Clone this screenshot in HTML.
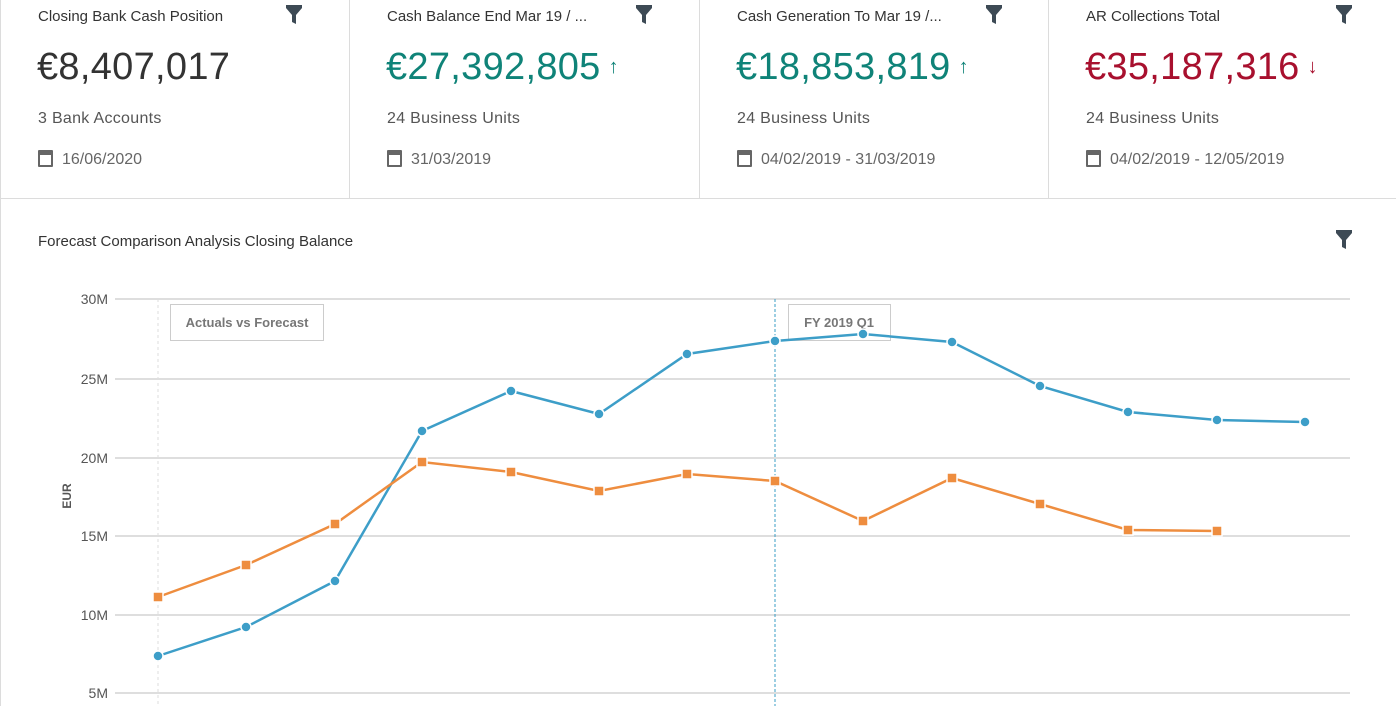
<!DOCTYPE html>
<html><head><meta charset="utf-8"><style>
body{margin:0;width:1396px;height:706px;overflow:hidden;background:#fff;font-family:"Liberation Sans",sans-serif;position:relative}
.card{position:absolute;top:0;height:198px;border-right:1px solid #dcdcdc}
.t{position:absolute;left:38px;top:8px;font-size:15px;color:#333;white-space:nowrap}
.f{position:absolute;top:5px}
.v{position:absolute;left:37px;top:46px;font-size:38px;color:#333;white-space:nowrap;letter-spacing:0.3px}
.v span{font-size:20px;margin-left:8px;vertical-align:6px}
.s{position:absolute;left:38px;top:110px;font-size:16px;color:#555;letter-spacing:0.3px}
.d{position:absolute;left:38px;top:150px;font-size:16px;color:#666}
.d i{display:inline-block;width:15px;height:17px;border:2px solid #666;border-top-width:5px;box-sizing:border-box;border-radius:1px;margin-right:9px;vertical-align:-3px}
</style></head><body>
<div style="position:absolute;left:0;top:0;width:1px;height:706px;background:#dcdcdc"></div>
<div style="position:absolute;left:0;top:198px;width:1396px;height:1px;background:#dcdcdc"></div>
<div class="card" style="left:0;width:349px">
<div class="t">Closing Bank Cash Position</div>
<svg class="f" style="left:286px" width="16" height="20" viewBox="0 0 16 20"><path d="M0 0H16V3L10 10V19L6 17V10L0 3Z" fill="#3d4a55"/></svg>
<div class="v">€8,407,017</div><div class="s">3 Bank Accounts</div><div class="d"><i></i>16/06/2020</div></div>
<div class="card" style="left:349px;width:350px">
<div class="t">Cash Balance End Mar 19 / ...</div>
<svg class="f" style="left:287px" width="16" height="20" viewBox="0 0 16 20"><path d="M0 0H16V3L10 10V19L6 17V10L0 3Z" fill="#3d4a55"/></svg>
<div class="v" style="color:#0f8378">€27,392,805<span>↑</span></div><div class="s">24 Business Units</div><div class="d"><i></i>31/03/2019</div></div>
<div class="card" style="left:699px;width:349px">
<div class="t">Cash Generation To Mar 19 /...</div>
<svg class="f" style="left:287px" width="16" height="20" viewBox="0 0 16 20"><path d="M0 0H16V3L10 10V19L6 17V10L0 3Z" fill="#3d4a55"/></svg>
<div class="v" style="color:#0f8378">€18,853,819<span>↑</span></div><div class="s">24 Business Units</div><div class="d"><i></i>04/02/2019 - 31/03/2019</div></div>
<div class="card" style="left:1048px;width:348px;border-right:none">
<div class="t">AR Collections Total</div>
<svg class="f" style="left:288px" width="16" height="20" viewBox="0 0 16 20"><path d="M0 0H16V3L10 10V19L6 17V10L0 3Z" fill="#3d4a55"/></svg>
<div class="v" style="color:#a8102e">€35,187,316<span>↓</span></div><div class="s">24 Business Units</div><div class="d"><i></i>04/02/2019 - 12/05/2019</div></div>
<div style="position:absolute;left:38px;top:233px;font-size:15px;color:#333">Forecast Comparison Analysis Closing Balance</div>
<svg style="position:absolute;left:1336px;top:230px" width="16" height="20" viewBox="0 0 16 20"><path d="M0 0H16V3L10 10V19L6 17V10L0 3Z" fill="#3d4a55"/></svg>
<svg style="position:absolute;left:0;top:0" width="1396" height="706" font-family="Liberation Sans, sans-serif">
<g stroke="#dedede" stroke-width="2">
<line x1="115" x2="1350" y1="299" y2="299"/><line x1="115" x2="1350" y1="379" y2="379"/><line x1="115" x2="1350" y1="458" y2="458"/><line x1="115" x2="1350" y1="536" y2="536"/><line x1="115" x2="1350" y1="615" y2="615"/><line x1="115" x2="1350" y1="693" y2="693"/></g>
<g fill="#555" font-size="14" text-anchor="end"><text x="108" y="304">30M</text><text x="108" y="384">25M</text><text x="108" y="463">20M</text><text x="108" y="541">15M</text><text x="108" y="620">10M</text><text x="108" y="698">5M</text></g>
<text transform="translate(71,496) rotate(-90)" text-anchor="middle" font-size="12" font-weight="bold" fill="#555">EUR</text>
<line x1="158" x2="158" y1="299" y2="706" stroke="#ddd" stroke-dasharray="3,3"/>
<line x1="775" x2="775" y1="299" y2="706" stroke="#3a9cc4" stroke-dasharray="3,2"/>
<rect x="170.5" y="304.5" width="153" height="36" fill="#fff" stroke="#ccc"/><text x="247" y="327" text-anchor="middle" font-size="13" font-weight="bold" fill="#777">Actuals vs Forecast</text>
<rect x="788.5" y="304.5" width="102" height="36" fill="#fff" stroke="#ccc"/><text x="839" y="327" text-anchor="middle" font-size="13" font-weight="bold" fill="#777">FY 2019 Q1</text>
<polyline fill="none" stroke="#3d9ec8" stroke-width="2.5" points="158,656 246,627 335,581 422,431 511,391 599,414 687,354 775,341 863,334 952,342 1040,386 1128,412 1217,420 1305,422"/>
<polyline fill="none" stroke="#ee8d3f" stroke-width="2.5" points="158,597 246,565 335,524 422,462 511,472 599,491 687,474 775,481 863,521 952,478 1040,504 1128,530 1217,531"/>
<g fill="#3d9ec8" stroke="#fff" stroke-width="1.5">
<circle cx="158" cy="656" r="5"/><circle cx="246" cy="627" r="5"/><circle cx="335" cy="581" r="5"/><circle cx="422" cy="431" r="5"/><circle cx="511" cy="391" r="5"/><circle cx="599" cy="414" r="5"/><circle cx="687" cy="354" r="5"/><circle cx="775" cy="341" r="5"/><circle cx="863" cy="334" r="5"/><circle cx="952" cy="342" r="5"/><circle cx="1040" cy="386" r="5"/><circle cx="1128" cy="412" r="5"/><circle cx="1217" cy="420" r="5"/><circle cx="1305" cy="422" r="5"/></g>
<g fill="#ee8d3f" stroke="#fff" stroke-width="1.5">
<rect x="153" y="592" width="10" height="10"/><rect x="241" y="560" width="10" height="10"/><rect x="330" y="519" width="10" height="10"/><rect x="417" y="457" width="10" height="10"/><rect x="506" y="467" width="10" height="10"/><rect x="594" y="486" width="10" height="10"/><rect x="682" y="469" width="10" height="10"/><rect x="770" y="476" width="10" height="10"/><rect x="858" y="516" width="10" height="10"/><rect x="947" y="473" width="10" height="10"/><rect x="1035" y="499" width="10" height="10"/><rect x="1123" y="525" width="10" height="10"/><rect x="1212" y="526" width="10" height="10"/></g>
</svg>
</body></html>
